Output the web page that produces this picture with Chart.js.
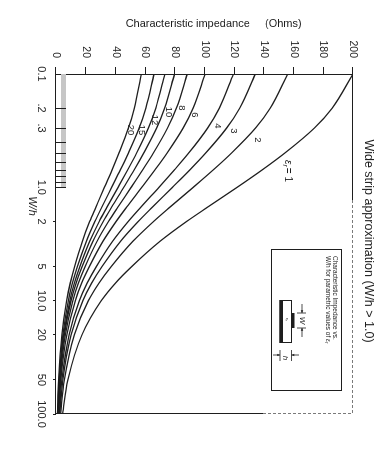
<!DOCTYPE html>
<html>
<head>
<meta charset="utf-8">
<script src="https://cdn.jsdelivr.net/npm/chart.js@4.4.1/dist/chart.umd.min.js"></script>
<style>
  html, body { margin: 0; padding: 0; background: #fff; }
  body { width: 390px; height: 465px; overflow: hidden; position: relative; }
  /* the chart is drawn upright and turned a quarter clockwise, like the scan */
  #wrap { position: absolute; left: 0; top: 0; width: 465px; height: 390px;
          transform-origin: 0 0; transform: translate(390px, 0) rotate(90deg); }
  canvas { display: block; }
</style>
</head>
<body>
<div id="wrap"><canvas id="chart" width="465" height="390"></canvas></div>
<script>
// W/h sample points and impedance (ohms)
const widthRatio = [0.1, 0.2, 0.3, 0.5, 0.7, 1, 1.5, 2, 3, 5, 7, 10, 20, 50, 100];
const er1  = [200, 186, 174, 154, 139, 122, 102, 88, 70, 51, 40, 30.5, 17.5, 8, 4.5];
const er2  = [156, 144.3, 134.4, 118.1, 106, 92.4, 76.6, 65.7, 51.7, 37.2, 28.9, 21.8, 12.3, 5.6, 3.1];
const er3  = [134.2, 123.7, 114.9, 100.7, 90.2, 78.4, 64.8, 55.4, 43.4, 31, 24, 18.1, 10.2, 4.6, 2.5];
const er4  = [119.5, 110, 102.1, 89.3, 79.8, 69.3, 57.1, 48.7, 38.1, 27.2, 21, 15.8, 8.8, 4, 2.2];
const er6  = [100.5, 92.3, 85.6, 74.7, 66.7, 57.8, 47.5, 40.5, 31.6, 22.5, 17.3, 13, 7.3, 3.2, 1.8];
const er8  = [88.4, 81.1, 75.1, 65.5, 58.4, 50.6, 41.6, 35.4, 27.6, 19.6, 15.1, 11.3, 6.3, 2.8, 1.6];
const er10 = [79.8, 73.2, 67.8, 59, 52.7, 45.6, 37.4, 31.8, 24.8, 17.6, 13.5, 10.1, 5.6, 2.5, 1.4];
const er12 = [73.3, 67.2, 62.2, 54.2, 48.3, 41.8, 34.3, 29.1, 22.7, 16.1, 12.4, 9.3, 5.2, 2.3, 1.3];
const er15 = [66, 60.5, 56, 48.7, 43.4, 37.5, 30.8, 26.2, 20.4, 14.4, 11.1, 8.3, 4.6, 2.1, 1.1];
const er20 = [57.5, 52.7, 48.8, 42.4, 37.8, 32.6, 26.8, 22.7, 17.7, 12.5, 9.6, 7.2, 4, 1.8, 1];

const permittivity = [1, 2, 3, 4, 6, 8, 10, 12, 15, 20];
const impedanceSeries = [er1, er2, er3, er4, er6, er8, er10, er12, er15, er20];

const whTicks = [0.1, 0.2, 0.3, 1, 2, 5, 10, 20, 50, 100];
const whTickLabels = ['0.1', '.2', '.3', '1.0', '2', '5', '10.0', '20', '50', '100.0'];
const innerTicks = [0.2, 0.3, 0.4, 0.5, 0.6, 0.7, 0.8, 0.9, 1];
const zTicks = [0, 20, 40, 60, 80, 100, 120, 140, 160, 180, 200];

const ink = '#1e1e1e';
const family = '"Liberation Sans", Arial, sans-serif';
Chart.defaults.font.family = family;
Chart.defaults.color = ink;

function drawEps(ctx, x, y, size, tail) {
    ctx.textAlign = 'left';
    ctx.textBaseline = 'middle';
    ctx.font = `italic ${size}px ${family}`;
    ctx.fillText('ε', x, y);
    let w = ctx.measureText('ε').width;
    ctx.font = `italic ${size * 0.72}px ${family}`;
    ctx.fillText('r', x + w, y + size * 0.32);
    w += ctx.measureText('r').width;
    if (tail) {
        ctx.font = `${size}px ${family}`;
        ctx.fillText(tail, x + w + 1, y);
    }
}

function arrow(ctx, x0, y0, x1, y1) {
    const ang = Math.atan2(y1 - y0, x1 - x0);
    ctx.beginPath();
    ctx.moveTo(x0, y0);
    ctx.lineTo(x1, y1);
    ctx.stroke();
    ctx.beginPath();
    ctx.moveTo(x1, y1);
    ctx.lineTo(x1 - 3 * Math.cos(ang - 0.4), y1 - 3 * Math.sin(ang - 0.4));
    ctx.lineTo(x1 - 3 * Math.cos(ang + 0.4), y1 - 3 * Math.sin(ang + 0.4));
    ctx.closePath();
    ctx.fill();
}

// curve labels, inner ticks, frame, title and the little legend box
const annotate = {
    id: 'annotate',
    afterDraw(chart) {
        const { ctx, chartArea: a, scales: { x } } = chart;
        ctx.save();

        // fine tick band between 0.1 and 1.0
        const b0 = x.getPixelForValue(0.1), b1 = x.getPixelForValue(1);
        ctx.fillStyle = '#c6c6c6';
        ctx.fillRect(b0, a.bottom - 10, b1 - b0, 5);
        ctx.strokeStyle = ink;
        ctx.lineWidth = 1;
        ctx.beginPath();
        innerTicks.forEach(t => {
            const p = Math.round(x.getPixelForValue(t)) + 0.5;
            ctx.moveTo(p, a.bottom);
            ctx.lineTo(p, a.bottom - 10);
        });
        ctx.stroke();

        // remaining frame sides, partly dashed
        ctx.beginPath();
        ctx.moveTo(a.left, a.top + 0.5);
        ctx.lineTo(200, a.top + 0.5);
        ctx.moveTo(a.right - 0.5, 127);
        ctx.lineTo(a.right - 0.5, a.bottom);
        ctx.stroke();
        ctx.save();
        ctx.strokeStyle = '#7a7a7a';
        ctx.setLineDash([3, 2]);
        ctx.beginPath();
        ctx.moveTo(200, a.top + 0.5);
        ctx.lineTo(a.right - 0.5, a.top + 0.5);
        ctx.lineTo(a.right - 0.5, 127);
        ctx.stroke();
        ctx.restore();

        // title
        ctx.fillStyle = ink;
        ctx.font = `12.5px ${family}`;
        ctx.textAlign = 'center';
        ctx.textBaseline = 'middle';
        ctx.fillText('Wide strip approximation (W/h > 1.0)', 241, 22);

        // x axis title
        ctx.font = `italic 11px ${family}`;
        ctx.fillText('W/h', 206, 358);

        // curve labels
        const spots = [[160, 102], [140, 132], [131, 156], [126, 172], [115, 195],
                       [108, 208], [112, 221], [120, 235], [130, 248], [130, 259]];
        permittivity.forEach((er, i) => {
            const [u, v] = spots[i];
            if (i === 0) {
                drawEps(ctx, u, v, 10, '= 1');
            } else {
                ctx.font = `9.5px ${family}`;
                ctx.textAlign = 'center';
                ctx.textBaseline = 'middle';
                ctx.fillText(String(er), u, v);
            }
        });

        // legend box
        ctx.fillStyle = '#fff';
        ctx.fillRect(249, 48, 141, 70);
        ctx.strokeStyle = ink;
        ctx.strokeRect(249.5, 48.5, 141, 70);
        ctx.fillStyle = ink;
        ctx.font = `6.5px ${family}`;
        ctx.textAlign = 'left';
        ctx.textBaseline = 'middle';
        ctx.fillText('Characteristic Impedance vs.', 256, 55.5);
        const line2 = 'W/h for parametric values of ';
        ctx.fillText(line2, 256, 62);
        const w2 = ctx.measureText(line2).width;
        drawEps(ctx, 256 + w2, 62, 6.5);

        // microstrip cross-section
        ctx.strokeRect(300.5, 98.5, 42, 11.5);
        ctx.fillRect(300, 107, 43, 3.5);
        ctx.fillRect(313, 95.5, 15, 3);
        drawEps(ctx, 318, 103, 4);
        ctx.lineWidth = 0.8;
        ctx.beginPath();
        ctx.moveTo(313, 84); ctx.lineTo(313, 93);
        ctx.moveTo(328, 84); ctx.lineTo(328, 93);
        ctx.moveTo(350, 98.5); ctx.lineTo(361, 98.5);
        ctx.moveTo(350, 110); ctx.lineTo(361, 110);
        ctx.stroke();
        arrow(ctx, 304, 88, 313, 88);
        arrow(ctx, 337, 88, 328, 88);
        arrow(ctx, 355, 91, 355, 98.5);
        arrow(ctx, 355, 117, 355, 110);
        ctx.font = `italic 8px ${family}`;
        ctx.textAlign = 'center';
        ctx.fillText('W', 320.5, 88);
        ctx.fillText('h', 358, 104.5);

        ctx.restore();
    }
};

new Chart(document.getElementById('chart'), {
    type: 'line',
    data: {
        datasets: impedanceSeries.map((vals, i) => ({
            label: 'εr = ' + permittivity[i],
            data: widthRatio.map((w, j) => ({ x: w, y: vals[j] })),
            borderColor: ink,
            borderWidth: 1.3,
            pointRadius: 0,
            cubicInterpolationMode: 'monotone',
            fill: false
        }))
    },
    options: {
        responsive: false,
        animation: false,
        devicePixelRatio: 1,
        layout: { padding: { top: 37, right: 51, left: 0, bottom: 0 } },
        plugins: {
            legend: { display: false },
            tooltip: { enabled: false }
        },
        scales: {
            x: {
                type: 'logarithmic',
                min: 0.1,
                max: 100,
                afterBuildTicks: s => { s.ticks = whTicks.map(v => ({ value: v })); },
                afterFit: s => { s.height = 56; },
                ticks: {
                    autoSkip: false,
                    maxRotation: 0,
                    minRotation: 0,
                    padding: 5,
                    font: { size: 11 },
                    callback: v => whTickLabels[whTicks.indexOf(v)]
                },
                grid: {
                    drawOnChartArea: false,
                    tickLength: 3,
                    color: c => (c.tick && c.tick.value > 1 ? ink : 'rgba(0,0,0,0)')
                },
                border: { color: ink, width: 1 }
            },
            y: {
                type: 'linear',
                min: 0,
                max: 200,
                afterBuildTicks: s => { s.ticks = zTicks.map(v => ({ value: v })); },
                afterFit: s => { s.width = 74; },
                ticks: { padding: 9, font: { size: 10.5 } },
                grid: { drawOnChartArea: false, tickLength: 7, color: ink },
                border: { color: ink, width: 1 },
                title: {
                    display: true,
                    text: '      Characteristic impedance     (Ohms)',
                    padding: { top: 17 },
                    font: { size: 11 }
                }
            }
        }
    },
    plugins: [annotate]
});
</script>
</body>
</html>
